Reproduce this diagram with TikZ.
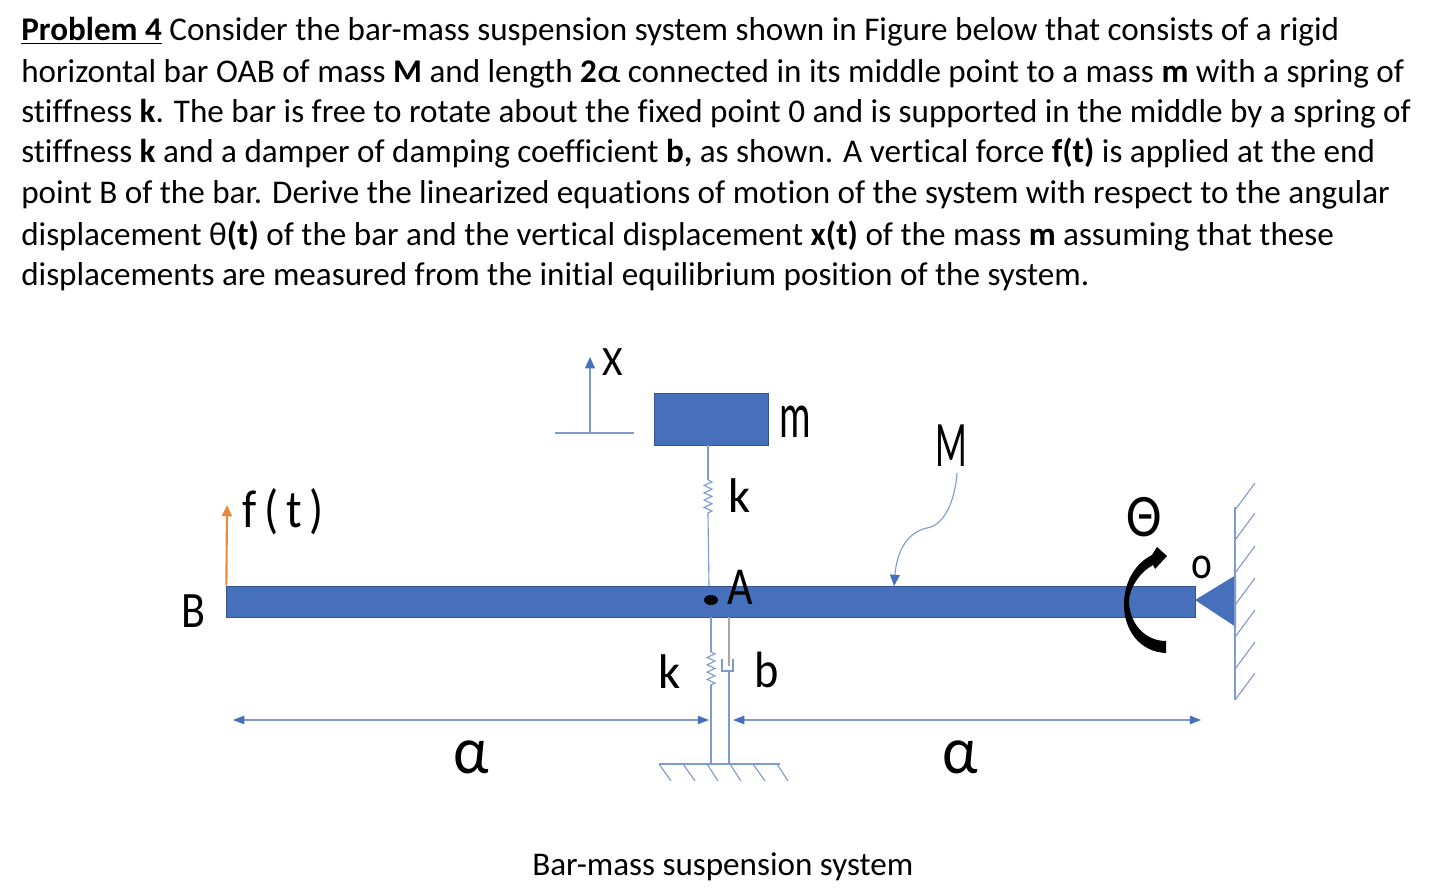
\documentclass[tikz,border=0pt]{standalone}
\usepackage{fontspec}
\setmainfont[Ligatures=CommonOff]{Carlito}
\usetikzlibrary{arrows.meta,decorations.pathmorphing}

\newcommand{\figlabel}[3]{\scalebox{#1}[#2]{#3}}

\tikzset{
  textline/.style={anchor=base west,inner sep=0pt,font=\fontsize{23.55pt}{28pt}\selectfont},
  partlabel/.style={inner sep=0pt,font=\fontsize{33pt}{36pt}\selectfont},
  solidpart/.style={draw=barblue!75!black,fill=barblue,line width=0.7pt,inner sep=0pt},
  thinline/.style={draw=lineblue,line width=0.8pt},
  bluetip/.style={-{Triangle[length=8pt,width=7pt,fill=barblue,color=barblue]}},
  dimarrow/.style={thinline,{Triangle[length=8pt,width=6pt,fill=barblue,color=barblue]}-{Triangle[length=8pt,width=6pt,fill=barblue,color=barblue]}},
  coilline/.style={decorate,decoration={zigzag,segment length=5.2pt,amplitude=2.8pt}}
}
\definecolor{barblue}{HTML}{4770BC}
\definecolor{lineblue}{HTML}{7F9BD0}
\definecolor{forceorange}{HTML}{E8893F}

\begin{document}
\begin{tikzpicture}[x=0.025cm,y=-0.025cm]
        \useasboundingbox (0,0) rectangle (1437,892);

        % Problem statement
        \node[textline] (line1) at (21,41) {\textbf{\underline{Problem 4}} Consider the bar-mass suspension system shown in Figure below that consists of a rigid};
        \node[textline] (line2) at (21,83) {horizontal bar OAB of mass \textbf{M} and length \textbf{2}\scalebox{1.25}[1]{α} connected in its middle point to a mass \textbf{m} with a spring of};
        \node[textline] (line3) at (21,123) {stiffness \textbf{k}. The bar is free to rotate about the fixed point 0 and is supported in the middle by a spring of};
        \node[textline] (line4) at (21,163) {stiffness \textbf{k} and a damper of damping coefficient \textbf{b,} as shown. A vertical force \textbf{f(t)} is applied at the end};
        \node[textline] (line5) at (21,204) {point B of the bar. Derive the linearized equations of motion of the system with respect to the angular};
        \node[textline] (line6) at (21,245) {displacement θ\textbf{(t)} of the bar and the vertical displacement \textbf{x(t)} of the mass \textbf{m} assuming that these};
        \node[textline] (line7) at (21,285) {displacements are measured from the initial equilibrium position of the system.};

        % Bar and mass
        \node[solidpart,minimum width=24.2cm,minimum height=0.775cm] (bar) at (711,601.5) {};
        \node[solidpart,minimum width=2.85cm,minimum height=1.3cm] (mass) at (711,419) {};
        \fill[black] (711,600) ellipse (7 and 5);  % point A

        % Upper spring
        \coordinate (topa) at (708,445);
        \coordinate (topb) at (708,480);
        \coordinate (topc) at (708,515);
        \coordinate (topd) at (709,586);
        \draw[thinline] (topa) -- (topb);
        \draw[thinline,coilline] (topb) -- (topc);
        \draw[thinline] (topc) -- (topd);

        % Lower spring
        \coordinate (lowa) at (711,617);
        \coordinate (lowb) at (711,652);
        \coordinate (lowc) at (711,685);
        \coordinate (lowd) at (711,764);
        \draw[thinline] (lowa) -- (lowb);
        \draw[thinline,coilline] (lowb) -- (lowc);
        \draw[thinline] (lowc) -- (lowd);

        % Damper
        \coordinate (dampa) at (729,617);
        \coordinate (dampb) at (729,666);
        \coordinate (dampc) at (729,671);
        \coordinate (dampd) at (729,764);
        \draw[draw=gray!70,line width=0.9pt] (dampa) -- (dampb);  % rod
        \draw[thinline] (722,659) -- (722,671) -- (733,671) -- (733,659);  % cup
        \draw[thinline] (dampc) -- (dampd);

        % Ground under the bar
        \draw[thinline] (659,764) -- (780,764);
        \draw[thinline] (659,764) -- (671,781) (683,764) -- (695,781) (707,764) -- (718,781)
                        (730,764) -- (741,781) (753,764) -- (765,781) (777,764) -- (788,781);

        % Reference line for x
        \coordinate (xfoot) at (590,433);
        \coordinate (xtip) at (590,357);
        \draw[thinline] (555,433) -- (634,433);
        \draw[thinline,bluetip] (xfoot) -- (xtip);

        % Force at the end B
        \coordinate (ftip) at (227,505);
        \draw[draw=forceorange,line width=1.5pt,-{Triangle[length=8pt,width=7pt]}] (bar.north west) -- (ftip);

        % Pointer from M to the bar
        \coordinate (mtail) at (957,473);
        \coordinate (mhead) at (894,586);
        \draw[thinline,bluetip] (mtail) .. controls (955,500) and (945,525) .. (927,528)
              .. controls (908,532) and (897,550) .. (mhead);

        % Pivot and wall
        \fill[barblue] (1195,600) -- (1236,575) -- (1236,627) -- cycle;
        \draw[thinline] (1235,507) -- (1235,700);
        \draw[thinline] (1235,510) -- (1255,483) (1235,540) -- (1255,513) (1235,573) -- (1255,546)
                        (1235,605) -- (1255,578) (1235,637) -- (1255,610) (1235,669) -- (1255,642) (1235,700) -- (1255,673);

        % Rotation arrow
        \fill[black] (1166,653) .. controls (1140,652) and (1123,630) .. (1124,602)
              .. controls (1125,580) and (1136,563) .. (1152,555) -- (1157,547) -- (1167,556) -- (1155,569) -- (1153,565)
              .. controls (1140,572) and (1129,588) .. (1129,602)
              .. controls (1130,625) and (1146,641) .. (1166,641) -- cycle;

        % Dimension arrows
        \coordinate (dima) at (233,720);
        \coordinate (dimb) at (709,720);
        \coordinate (dimc) at (733,720);
        \coordinate (dimd) at (1201,720);
        \draw[dimarrow] (dima) -- (dimb);
        \draw[dimarrow] (dimc) -- (dimd);

        % Labels
        \node[partlabel] (xlabel) at (613,362) {\figlabel{0.85}{0.9}{X}};
        \node[partlabel] (mlabel) at (795,422) {\figlabel{0.85}{1.4}{m}};
        \node[partlabel] (klabela) at (740,496) {\figlabel{1.05}{1.05}{k}};
        \node[partlabel] (bigm) at (951,446) {\figlabel{0.8}{1.4}{M}};
        \node[partlabel] (flabel) at (283,512) {\figlabel{1.0}{1.15}{f\,(\,t\,)}};
        \node[partlabel] (alabel) at (740,587) {\figlabel{0.95}{1.15}{A}};
        \node[partlabel] (blabel) at (193,611) {\figlabel{0.95}{1.1}{B}};
        \node[partlabel] (thetalabel) at (1144,517) {\figlabel{1.15}{1.3}{Θ}};
        \node[partlabel] (olabel) at (1202,567) {\figlabel{0.85}{1.0}{o}};
        \node[partlabel] (klabelb) at (670,672) {\figlabel{1.05}{1.05}{k}};
        \node[partlabel] (dlabel) at (767,670) {\figlabel{1.0}{1.1}{b}};
        \node[partlabel] (alphaa) at (471,757) {\figlabel{1.35}{1.45}{α}};
        \node[partlabel] (alphab) at (960,757) {\figlabel{1.35}{1.45}{α}};

        % Caption
        \node[textline] (caption) at (532,875) {Bar-mass suspension system};
    \end{tikzpicture}
\end{document}
